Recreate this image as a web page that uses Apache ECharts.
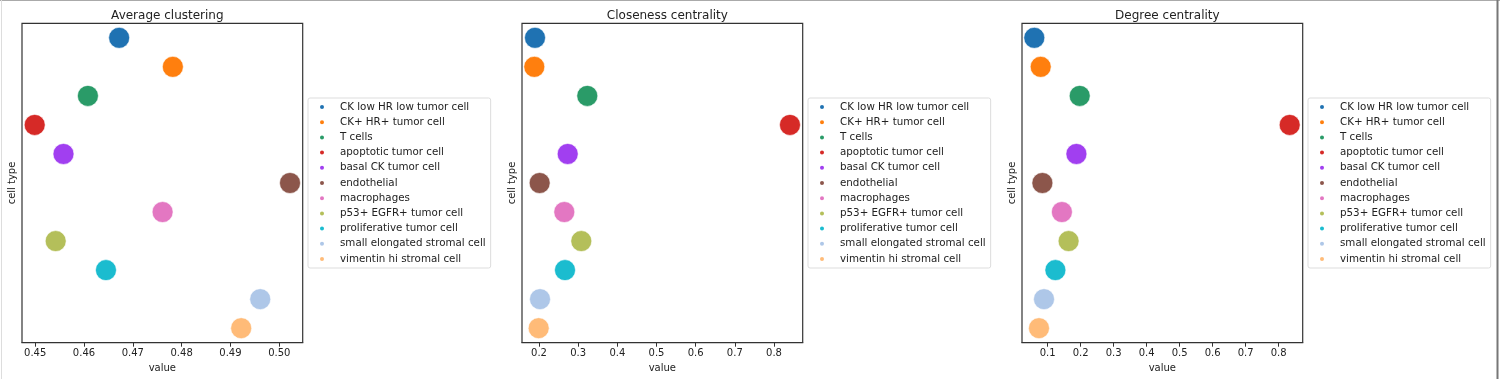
<!DOCTYPE html>
<html>
<head>
<meta charset="utf-8">
<script src="https://cdn.jsdelivr.net/npm/echarts@6/dist/echarts.min.js"></script>
<style>
html,body{margin:0;padding:0;background:#fff;}
#chart{width:1500px;height:379px;}
</style>
</head>
<body>
<div id="chart"></div>
<script>
const categories = [
  "CK low HR low tumor cell",
  "CK+ HR+ tumor cell",
  "T cells",
  "apoptotic tumor cell",
  "basal CK tumor cell",
  "endothelial",
  "macrophages",
  "p53+ EGFR+ tumor cell",
  "proliferative tumor cell",
  "small elongated stromal cell",
  "vimentin hi stromal cell"
];
const colors = ["#1f72b2","#ff7f0e","#2a9b68","#d62a27","#a13ff0","#8c564b","#e377c2","#b4bf5a","#1bbccf","#aec7e8","#ffbb78"];

const titles = ["Average clustering", "Closeness centrality", "Degree centrality"];

const avgClustering = [0.4672, 0.4782, 0.4608, 0.4499, 0.4558, 0.5022, 0.4761, 0.4542, 0.4645, 0.4961, 0.4922];
const closeness     = [0.1898, 0.1880, 0.3233, 0.8408, 0.2733, 0.2017, 0.2646, 0.3080, 0.2664, 0.2026, 0.1992];
const degree        = [0.0594, 0.0788, 0.1970, 0.8333, 0.1870, 0.0839, 0.1430, 0.1633, 0.1233, 0.0888, 0.0736];

const ticks1 = [0.45, 0.46, 0.47, 0.48, 0.49, 0.50];
const ticks2 = [0.2, 0.3, 0.4, 0.5, 0.6, 0.7, 0.8];
const ticks3 = [0.1, 0.2, 0.3, 0.4, 0.5, 0.6, 0.7, 0.8];

const panels = [
  {values: avgClustering, ticks: ticks1, min: 0.4473, max: 0.5048, dec: 2, left: 22},
  {values: closeness,     ticks: ticks2, min: 0.1566, max: 0.8733, dec: 1, left: 522},
  {values: degree,        ticks: ticks3, min: 0.0221, max: 0.8727, dec: 1, left: 1022}
];

const FONT = "DejaVu Sans";
const TXT = "#222";
const gridTop = 23.3, gridH = 319.4, gridW = 280.7;

const option = {
  animation: false,
  textStyle: {fontFamily: FONT},
  title: [], grid: [], xAxis: [], yAxis: [], legend: [], series: [],
  graphic: [
    {type: 'line', shape: {x1: 0, y1: 0.5, x2: 1500, y2: 0.5}, style: {stroke: '#aaa', lineWidth: 1}},
    {type: 'line', shape: {x1: 1.5, y1: 0, x2: 1.5, y2: 379}, style: {stroke: '#ddd', lineWidth: 1}},
    {type: 'line', shape: {x1: 1497.5, y1: 0, x2: 1497.5, y2: 379}, style: {stroke: '#777', lineWidth: 2}}
  ]
};

panels.forEach((p, i) => {
  option.title.push({
    text: titles[i],
    left: p.left + gridW / 2, top: 5, textAlign: 'center',
    textStyle: {fontFamily: FONT, fontSize: 12, fontWeight: 'normal', color: TXT}
  });
  option.grid.push({
    left: p.left, top: gridTop, width: gridW, height: gridH,
    show: true, borderColor: '#333', borderWidth: 1.2, backgroundColor: 'transparent'
  });
  option.xAxis.push({
    type: 'value', gridIndex: i, min: p.min, max: p.max,
    name: 'value', nameLocation: 'middle', nameGap: 20,
    nameTextStyle: {fontFamily: FONT, fontSize: 10, color: TXT},
    splitLine: {show: false},
    axisLine: {show: true, lineStyle: {color: '#333', width: 1.2}},
    axisTick: {show: true, length: 4, customValues: p.ticks, lineStyle: {color: '#333'}},
    axisLabel: {customValues: p.ticks, margin: 6, fontFamily: FONT, fontSize: 10, color: TXT,
      formatter: v => v.toFixed(p.dec)}
  });
  option.yAxis.push({
    type: 'category', gridIndex: i, data: categories, inverse: true, boundaryGap: true,
    name: 'cell type', nameLocation: 'middle', nameGap: 5, nameRotate: 90,
    nameTextStyle: {fontFamily: FONT, fontSize: 10, color: TXT},
    axisLine: {show: false}, axisTick: {show: false}, axisLabel: {show: false},
    splitLine: {show: false}
  });
  option.legend.push({
    data: categories,
    orient: 'vertical',
    left: p.left + 286, top: 98,
    padding: [3, 5, 3, 10],
    itemWidth: 26, itemHeight: 6, itemGap: 3.2,
    icon: 'circle',
    borderColor: '#ddd', borderWidth: 1, borderRadius: 2,
    textStyle: {fontFamily: FONT, fontSize: 10.3, color: TXT, lineHeight: 12}
  });
  categories.forEach((c, k) => {
    option.series.push({
      type: 'scatter', name: c, xAxisIndex: i, yAxisIndex: i,
      symbolSize: 21,
      itemStyle: {color: colors[k], opacity: 1, borderColor: '#fff', borderWidth: 0.6},
      data: [[p.values[k], c]]
    });
  });
});

const chart = echarts.init(document.getElementById('chart'), null, {renderer: 'canvas'});
chart.setOption(option);
</script>
</body>
</html>
